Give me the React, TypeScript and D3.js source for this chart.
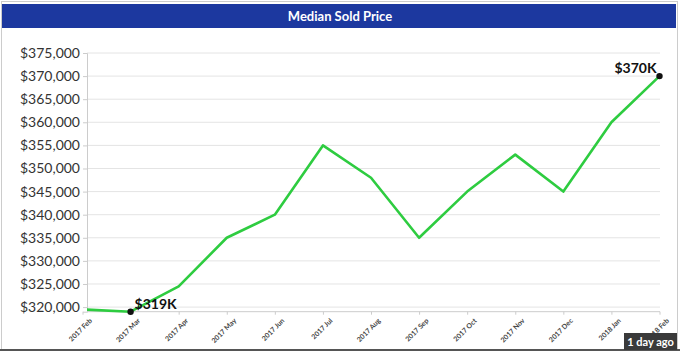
import React, { useEffect, useRef } from 'react';
import * as d3 from 'd3';

const months = ['2017 Feb', '2017 Mar', '2017 Apr', '2017 May', '2017 Jun', '2017 Jul', '2017 Aug',
  '2017 Sep', '2017 Oct', '2017 Nov', '2017 Dec', '2018 Jan', '2018 Feb'];
const prices = [319500, 319000, 324500, 335000, 340000, 355000, 348000, 335000, 345000, 353000, 345000, 360000, 370000];
const yTicks = [320000, 325000, 330000, 335000, 340000, 345000, 350000, 355000, 360000, 365000, 370000, 375000];
const callouts = [{ idx: 1, label: '$319K' }, { idx: 12, label: '$370K' }];

const W = 680;
const H = 352;

const App = () => {
  const svgRef = useRef<SVGSVGElement>(null);

  useEffect(() => {
    const svg = d3.select(svgRef.current);
    svg.selectAll('*').remove();
    const font = 'Lato, "Open Sans", sans-serif';

    // frame
    svg.append('rect').attr('x', 1.5).attr('y', 1.5).attr('width', W - 4).attr('height', H - 3)
      .style('fill', '#fff').style('stroke', '#ccc');
    svg.append('line').attr('x1', 0).attr('x2', W).attr('y1', H - 2).attr('y2', H - 2)
      .style('stroke', '#555').style('stroke-width', 2);

    // title bar
    svg.append('rect').attr('x', 2).attr('y', 4).attr('width', W - 6).attr('height', 24)
      .style('fill', '#1c389f');
    svg.append('text').attr('x', W / 2).attr('y', 21).attr('text-anchor', 'middle')
      .style('fill', '#fff').style('font-family', font).style('font-weight', 'bold').style('font-size', '13px')
      .text('Median Sold Price');

    const axisX = 87, right = 660, top = 53, bottom = 311.7;

    const x = d3.scalePoint().domain(months).range([82.5, 659.5]);
    const y = d3.scaleLinear().domain([319000, 375000]).range([bottom, top]);

    // grid
    svg.append('g').selectAll('line').data(yTicks).enter().append('line')
      .attr('x1', axisX).attr('x2', right)
      .attr('y1', d => y(d)).attr('y2', d => y(d))
      .style('stroke', '#e4e4e4').style('stroke-width', 1);

    // y axis
    const yAxis = svg.append('g').attr('transform', `translate(${axisX},0)`)
      .call(d3.axisLeft(y).tickValues(yTicks).tickSize(4).tickFormat(d => '$' + d3.format(',')(d as number)));
    yAxis.select('.domain').style('stroke', '#ccc');
    yAxis.selectAll('line').style('stroke', '#ccc');
    yAxis.selectAll('text').style('fill', '#333').style('font-family', font).style('font-size', '14px');

    // x axis
    svg.append('line').attr('x1', axisX).attr('x2', right).attr('y1', bottom).attr('y2', bottom)
      .style('stroke', '#ccc');
    const xAxis = svg.append('g').attr('transform', `translate(0,${bottom})`)
      .call(d3.axisBottom(x).tickSize(3));
    xAxis.select('.domain').remove();
    xAxis.selectAll('line').style('stroke', '#ccc');
    xAxis.selectAll('text')
      .attr('text-anchor', 'end')
      .attr('y', 0)
      .attr('dy', '0.3em')
      .attr('transform', 'translate(8,8) rotate(-45)')
      .style('fill', '#444').style('font-family', font).style('font-weight', 'bold').style('font-size', '7px');

    // line, clipped at the y axis
    svg.append('clipPath').attr('id', 'plot-clip').append('rect')
      .attr('x', axisX).attr('y', 0).attr('width', right - axisX + 5).attr('height', H);
    const line = d3.line<number>().x((d, i) => x(months[i])!).y(d => y(d));
    svg.append('path').datum(prices).attr('d', line).attr('clip-path', 'url(#plot-clip)')
      .style('fill', 'none').style('stroke', '#2ecc40').style('stroke-width', 2.6)
      .style('stroke-linejoin', 'round');

    // callouts
    callouts.forEach(c => {
      const cx = x(months[c.idx])!;
      const cy = y(prices[c.idx]);
      svg.append('circle').attr('cx', cx).attr('cy', cy).attr('r', 3.2).style('fill', '#111');
      const t = svg.append('text').attr('y', cy - 3)
        .style('fill', '#111').style('font-family', font).style('font-weight', 'bold').style('font-size', '14px')
        .text(c.label);
      if (c.idx === months.length - 1) t.attr('x', cx - 3).attr('text-anchor', 'end');
      else t.attr('x', cx + 4).attr('text-anchor', 'start');
    });

    // badge
    svg.append('rect').attr('x', 624).attr('y', 333).attr('width', 53).attr('height', 17)
      .style('fill', '#3a3a3a');
    svg.append('text').attr('x', 650.5).attr('y', 345.5).attr('text-anchor', 'middle')
      .style('fill', '#fff').style('font-family', font).style('font-weight', 'bold').style('font-size', '11px')
      .text('1 day ago');
  }, []);

  return (
    <div style={{ position: 'fixed', left: 0, top: 0 }}>
      <svg ref={svgRef} width={W} height={H} style={{ display: 'block' }}></svg>
    </div>
  );
};

export default App;
